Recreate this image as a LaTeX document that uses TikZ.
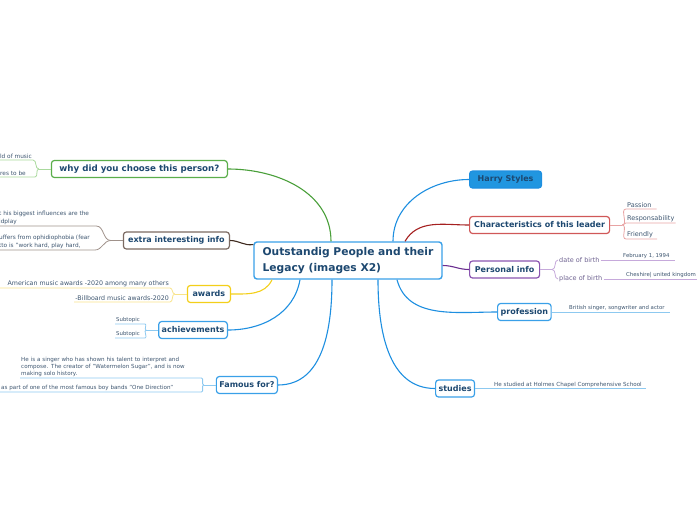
\documentclass[tikz,border=0pt]{standalone}
\usepackage{fontspec}
\setmainfont{DejaVu Sans}
\usetikzlibrary{positioning,calc}

\definecolor{ink}{HTML}{1D4870}
\definecolor{subink}{HTML}{3E5670}
\definecolor{mapblue}{HTML}{1E8FE0}
\definecolor{boxblue}{HTML}{3AA0E8}
\definecolor{lightblue}{HTML}{8DC9F0}
\definecolor{mapgreen}{HTML}{4A9F3A}
\definecolor{boxgreen}{HTML}{5AAE4A}
\definecolor{lightgreen}{HTML}{A9D99D}
\definecolor{mapbrown}{HTML}{3E2A1E}
\definecolor{boxbrown}{HTML}{7B6A62}
\definecolor{lightbrown}{HTML}{A0928B}
\definecolor{mapyellow}{HTML}{F3CF1A}
\definecolor{lightyellow}{HTML}{F8E38A}
\definecolor{mapred}{HTML}{A52020}
\definecolor{boxred}{HTML}{D05858}
\definecolor{lightred}{HTML}{E8A3A3}
\definecolor{mappurple}{HTML}{6A2D90}
\definecolor{boxpurple}{HTML}{8A55B0}
\definecolor{lightpurple}{HTML}{C6A9DB}
\definecolor{purpleink}{HTML}{6E6290}
\definecolor{harryfill}{HTML}{2196E0}

\tikzset{
  root/.style={draw=boxblue, line width=1.4pt, rounded corners=3pt, fill=white, text=ink,
    font=\bfseries\fontsize{10.7}{16}\selectfont, align=left,
    minimum width=188pt, minimum height=37pt},
  topic/.style={draw, line width=1.2pt, rounded corners=3pt, fill=white, text=ink,
    font=\bfseries\fontsize{8}{10}\selectfont, minimum height=17pt, inner xsep=3pt},
  sub/.style={text=subink, font=\fontsize{6.5}{8}\selectfont, inner sep=1pt},
  note/.style={text=subink, font=\fontsize{5.4}{7.2}\selectfont, inner sep=1pt, align=left},
  leftnote/.style={text=subink, font=\fontsize{5.8}{8}\selectfont, inner sep=1pt, align=left},
  link/.style={line width=1.1pt},
  twig/.style={line width=0.8pt}
}

\begin{document}
\begin{tikzpicture}[x=1pt,y=-1pt]
\useasboundingbox (0,0) rectangle (697,520);

% central topic
\node[root] (central) at (348,260.5) {Outstandig People and their\\Legacy (images X2)};

% left topics
\node[topic, draw=boxgreen, anchor=east, minimum width=176pt, font=\bfseries\fontsize{8.7}{10}\selectfont] (why) at (228,169) {why did you choose this person?};
\node[topic, draw=boxbrown, anchor=east, minimum width=106pt] (extra)  at (230,240.5) {extra interesting info};
\node[topic, draw=mapyellow, anchor=east, minimum width=43pt] (awards) at (231,294)   {awards};
\node[topic, draw=boxblue, anchor=east, minimum width=66pt]   (ach)    at (228,330)   {achievements};
\node[topic, draw=boxblue, anchor=east, minimum width=61pt]   (famous) at (278,385)   {Famous for?};

% right topics
\node[topic, draw=mapblue, fill=harryfill, anchor=west, minimum width=72pt] (harry) at (469,179.5) {Harry Styles};
\node[topic, draw=boxred, anchor=west, minimum width=140pt]   (char)     at (469,225)   {Characteristics of this leader};
\node[topic, draw=boxpurple, anchor=west, minimum width=70pt] (personal) at (469,269.5) {Personal info};
\node[topic, draw=boxblue, anchor=west, minimum width=52pt]   (prof)     at (497,312)   {profession};
\node[topic, draw=boxblue, anchor=west, minimum width=38pt]   (studies)  at (435,388.5) {studies};

% main connectors
\draw[link, mapgreen]  ($(central.north)+(-17,0)$) to[out=90,in=0] (why.east);
\draw[link, mapbrown]  (extra.east) to[out=0,in=190] ($(central.west)+(0,-16)$);
\draw[link, mapyellow] ($(central.south)+(-76,0)$) to[out=-115,in=0] (awards.east);
\draw[link, mapblue]   ($(central.south)+(-48,0)$) to[out=-100,in=0] (ach.east);
\draw[link, mapblue]   ($(central.south)+(-16,0)$) to[out=-90,in=0] (famous.east);
\draw[link, mapblue]   ($(central.north)+(45,0)$) to[out=90,in=180] (harry.west);
\draw[link, mapred]    ($(central.north)+(57,0)$) to[out=60,in=180] (char.west);
\draw[link, mappurple] ($(central.east)+(0,5)$) to[out=0,in=180] (personal.west);
\draw[link, mapblue]   ($(central.south)+(49,0)$) to[out=-75,in=180] (prof.west);
\draw[link, mapblue]   ($(central.south)+(30,0)$) to[out=-90,in=180] (studies.west);

% why did you choose this person?
\coordinate (whyfork) at ($(why.west)+(-12,0)$);
\node[leftnote, anchor=south east] (why1) at (33,160) {ld of music};
\node[leftnote, anchor=south east] (why2) at (35,177) {res to be\hspace*{8pt}};
\draw[twig, lightgreen] (why.west) -- (whyfork);
\draw[twig, lightgreen] (whyfork) to[out=180,in=0] (why1.south east) -- ++(-60,0);
\draw[twig, lightgreen] (whyfork) to[out=180,in=0] (why2.south east) -- ++(-60,0);

% extra interesting info
\coordinate (extrafork) at ($(extra.west)+(-12,0)$);
\node[leftnote, anchor=south west] (extra1) at (-2,226) {t his biggest influences are the\\idplay};
\node[leftnote, anchor=south west] (extra2) at (-2,250) {uffers from ophidiophobia (fear\\tto is "work hard, play hard,};
\draw[twig, lightbrown] (extra.west) -- (extrafork);
\draw[twig, lightbrown] (extrafork) to[out=180,in=0] ($(extra1.south east)+(6,0)$) -- (extra1.south west);
\draw[twig, lightbrown] (extrafork) to[out=180,in=0] ($(extra2.south east)+(4,0)$) -- (extra2.south west);

% awards
\coordinate (awardsfork) at ($(awards.west)+(-12,0)$);
\node[sub, font=\fontsize{6.3}{8}\selectfont, anchor=south east] (awards1) at (170,288) {American music awards -2020 among many others};
\node[sub, font=\fontsize{6.3}{8}\selectfont, anchor=south east] (awards2) at (170,302) {-Billboard music awards-2020};
\draw[twig, lightyellow] (awards.west) -- (awardsfork);
\draw[twig, lightyellow] (awardsfork) to[out=180,in=0] (awards1.south east) -- ++(-190,0);
\draw[twig, lightyellow] (awardsfork) to[out=180,in=0] (awards2.south east) -- (awards2.south west);

% achievements
\coordinate (achfork) at ($(ach.west)+(-12,0)$);
\node[note, anchor=south east] (ach1) at (145,324) {Subtopic\hspace*{4pt}};
\node[note, anchor=south east] (ach2) at (145,338) {Subtopic\hspace*{4pt}};
\draw[twig, lightblue] (ach.west) -- (achfork);
\draw[twig, lightblue] (achfork) to[out=180,in=0] (ach1.south east) -- (ach1.south west);
\draw[twig, lightblue] (achfork) to[out=180,in=0] (ach2.south east) -- (ach2.south west);

% famous for?
\coordinate (famousfork) at ($(famous.west)+(-12,0)$);
\node[note, font=\fontsize{5.6}{7.2}\selectfont, anchor=south west, text width=180pt] (famous1) at (20,378)
  {He is a singer who has shown his talent to interpret and\\compose. The creator of "Watermelon Sugar", and is now\\making solo history.};
\node[note, font=\fontsize{5.6}{7.2}\selectfont, anchor=south west] (famous2) at (0,392) {as part of one of the most famous boy bands "One Direction"\hspace*{27pt}};
\draw[twig, lightblue] (famous.west) -- (famousfork);
\draw[twig, lightblue] (famousfork) to[out=180,in=0] (famous2.south east |- famous1.south east) -- (famous1.south west);
\draw[twig, lightblue] (famousfork) to[out=180,in=0] (famous2.south east) -- ++(-210,0);

% characteristics of this leader
\coordinate (charfork) at ($(char.east)+(12,0)$);
\node[sub, anchor=south west] (char1) at (626,209) {Passion\hspace*{4pt}};
\node[sub, anchor=south west] (char2) at (626,223) {Responsability};
\node[sub, anchor=south west] (char3) at (626,239) {Friendly\hspace*{3pt}};
\draw[twig, lightred] (char.east) -- (charfork);
\draw[twig, lightred] (charfork) to[out=0,in=180] (char1.south west) -- (char1.south east);
\draw[twig, lightred] (charfork) to[out=0,in=180] (char2.south west) -- (char2.south east);
\draw[twig, lightred] (charfork) to[out=0,in=180] (char3.south west) -- (char3.south east);

% personal info
\coordinate (personalfork) at ($(personal.east)+(12,0)$);
\node[sub, text=purpleink, anchor=west] (birthdate)  at (558,260) {date of birth};
\node[sub, text=purpleink, anchor=west] (birthplace) at (558,279) {place of birth};
\node[note, anchor=south west] (birthdate1)  at (622,260) {February 1, 1994\hspace*{4pt}};
\node[note, anchor=south west] (birthplace1) at (625,279) {Cheshire| united kingdom};
\draw[twig, lightpurple] (personal.east) -- (personalfork);
\draw[twig, lightpurple] (personalfork) to[out=0,in=180] (birthdate.west);
\draw[twig, lightpurple] (personalfork) to[out=0,in=180] (birthplace.west);
\draw[twig, lightpurple] (birthdate.east) -- (birthdate1.south east);
\draw[twig, lightpurple] (birthplace.east) -- (birthplace1.south east);

% profession and studies
\node[note, anchor=south west] (prof1) at (568,312) {British singer, songwriter and actor\hspace*{4pt}};
\draw[twig, lightblue] (prof.east) -- (prof1.south east);
\node[note, font=\fontsize{5.6}{7.2}\selectfont, anchor=south west] (studies1) at (493,388.5) {He studied at Holmes Chapel Comprehensive School\hspace*{3pt}};
\draw[twig, lightblue] (studies.east) -- (studies1.south east);

\end{tikzpicture}
\end{document}
